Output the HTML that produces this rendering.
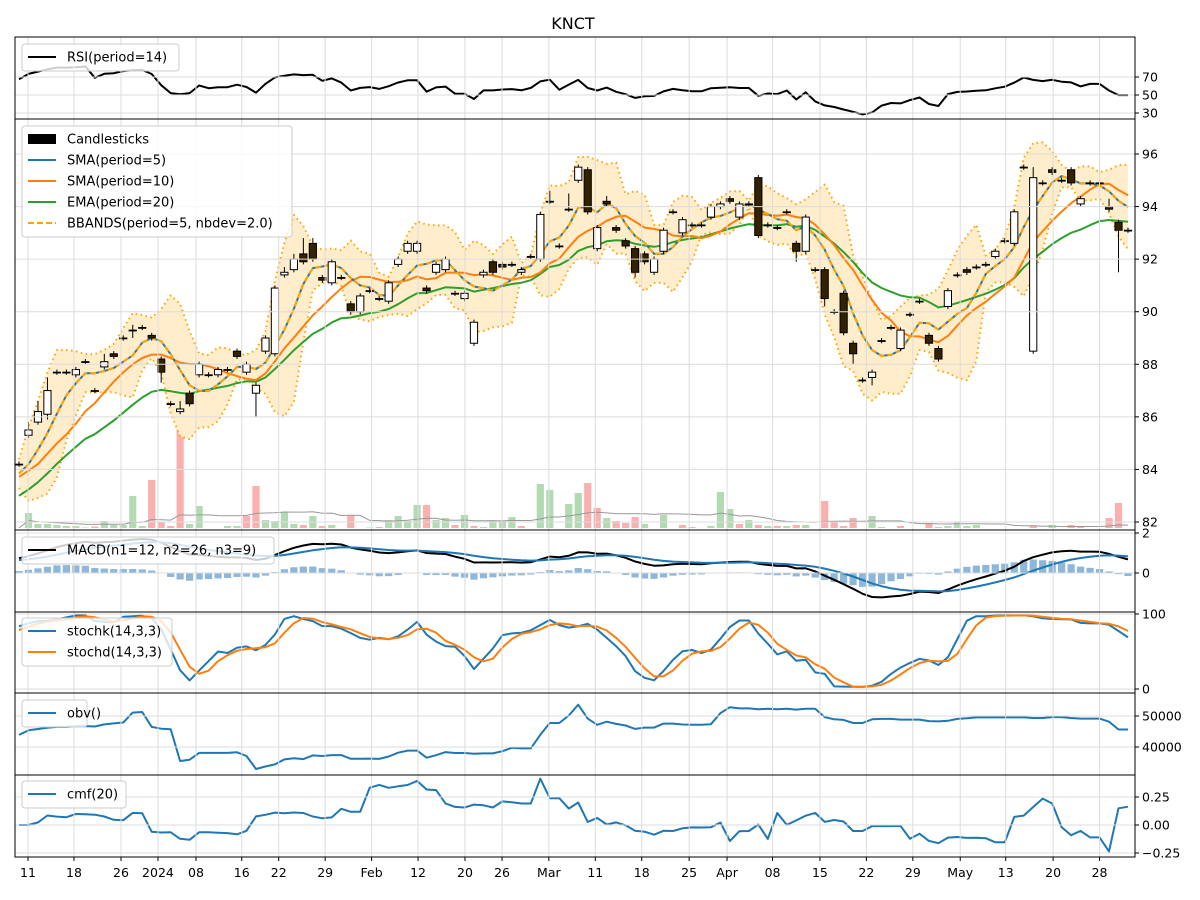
<!DOCTYPE html>
<html><head><meta charset="utf-8"><title>KNCT</title>
<style>html,body{margin:0;padding:0;background:#fff}svg{display:block}text{font-family:"DejaVu Sans","Liberation Sans",sans-serif}</style>
</head><body>
<svg id="chart" width="1200" height="900" viewBox="0 0 1200 900" xmlns="http://www.w3.org/2000/svg">
<text x="573" y="29" font-size="16" text-anchor="middle">KNCT</text>
</svg>
<script>
// ---- data ----
const preCloses = [81.0,80.6,81.2,81.5,81.1,81.8,82.3,81.9,82.4,82.9,82.5,83.2,83.6,83.1,83.8,84.3,83.7,83.4,83.9,84.0];
const opens = [84.2,85.3,85.8,86.1,87.7,87.7,87.6,88.1,87.0,87.9,88.4,89.0,89.3,89.4,89.1,88.2,86.5,86.2,86.9,87.6,87.6,87.6,87.8,88.5,87.7,86.9,88.5,88.4,91.4,91.6,92.2,92.6,91.3,91.1,91.3,90.3,90.0,90.8,90.5,90.4,91.8,92.3,92.3,90.9,91.5,91.6,90.7,90.5,88.8,91.4,91.9,91.8,91.8,91.5,92.1,92.0,94.2,92.5,93.9,95.0,95.4,92.4,94.2,93.2,92.7,92.4,92.2,91.5,92.3,93.8,93.0,93.3,93.3,93.6,94.0,94.3,93.6,94.1,95.1,93.3,93.2,93.8,92.6,92.3,91.6,91.6,90.0,90.7,88.8,87.4,87.5,88.9,89.4,88.6,89.9,90.4,89.1,88.6,90.2,91.4,91.6,91.7,91.8,92.1,92.7,92.6,95.5,88.5,94.9,95.4,95.0,95.4,94.1,94.9,94.9,94.0,93.4,93.1];
const closes = [84.2,85.5,86.2,87.0,87.7,87.7,87.8,88.1,87.0,88.1,88.3,89.0,89.3,89.4,89.0,87.7,86.5,86.3,86.5,88.0,87.6,87.8,87.8,88.3,88.0,87.2,89.0,90.9,91.5,92.0,91.9,92.0,91.2,91.9,91.3,90.0,90.6,90.8,90.5,91.1,92.0,92.6,92.6,90.8,91.8,92.0,90.7,90.7,89.6,91.5,91.5,91.7,91.8,91.6,92.1,93.7,94.2,92.5,93.9,95.5,93.8,93.2,94.1,93.1,92.5,91.5,91.9,92.0,93.1,93.8,93.5,93.3,93.3,94.0,94.1,94.2,94.1,94.1,92.9,93.3,93.2,93.8,92.3,93.6,91.6,90.5,90.0,89.2,88.4,87.4,87.7,88.9,89.4,89.3,89.9,90.4,88.8,88.2,90.8,91.4,91.5,91.7,91.8,92.3,92.7,93.8,95.5,95.1,94.9,95.3,95.0,94.9,94.3,94.9,94.9,93.9,93.1,93.1];
const wickUp = [0.1,0.3,0.4,0.5,0.1,0.1,0.1,0.1,0.1,0.3, 0.1,0.1,0.2,0.1,0.1,0.1,0.1,0.3,0.1,0.1, 0.1,0.1,0.1,0.1,0.1,0.1,0.1,0.1,0.2,0.2, 0.6,0.2,0.1,0.1,0.1,0.1,0.1,0.1,0.1,0.1, 0.1,0.1,0.1,0.1,0.1,0.1,0.1,0.1,0.1,0.1, 0.1,0.1,0.1,0.1,0.1,0.1,0.4,0.1,0.6,0.1, 0.1,0.1,0.2,0.1,0.1,0.1,0.1,0.1,0.1,0.1, 0.1,0.1,0.1,0.1,0.1,0.1,0.1,0.1,0.1,0.1, 0.1,0.1,0.1,0.1,0.1,0.1,0.1,0.1,0.1,0.1, 0.1,0.1,0.1,0.1,0.1,0.1,0.1,0.1,0.1,0.1, 0.1,0.1,0.1,0.1,0.1,0.1,0.1,0.4,0.1,0.1, 0.1,0.1,0.1,0.1,0.1,0.3,0.1,0.1];
const wickDn = [0.1,0.1,0.1,0.2,0.1,0.1,0.1,0.1,0.1,0.1, 0.1,0.1,0.3,0.1,0.1,0.4,0.1,0.1,0.1,0.1, 0.1,0.1,0.1,0.1,0.1,0.9,0.1,0.1,0.1,0.1, 0.1,0.1,0.1,0.1,0.1,0.1,0.1,0.1,0.1,0.1, 0.1,0.1,0.1,0.1,0.1,0.1,0.1,0.1,0.1,0.1, 0.1,0.1,0.1,0.1,0.1,0.1,0.1,0.1,0.1,0.1, 0.1,0.1,0.1,0.1,0.1,0.2,0.1,0.1,0.1,0.1, 0.1,0.1,0.1,0.1,0.1,0.1,0.1,0.1,0.1,0.1, 0.1,0.1,0.4,0.1,0.1,0.3,0.1,0.1,0.4,0.1, 0.3,0.1,0.1,0.1,0.1,0.1,0.1,0.1,0.1,0.1, 0.1,0.1,0.1,0.1,0.1,0.1,0.1,0.1,0.1,0.1, 0.1,0.1,0.1,0.1,0.1,0.1,1.6,0.1];
// volumes in hundreds of shares
const volumes = [0,15,4,4,3,2,2,0.5,1.5,7,3,3,32,2,48,6,2,102,4,22,0,0,2,2,12,42,8,7,16,4,3,12,2,3,0,12,0,0.5,1,8,
 12,7,23,23,8,10,3,13,2,1,7,7,11,2,0,44,38,0,24,35,45,20,10,7,5,11,4,0,13,0,3,1,0,2,36,19,4,8,3,2,
 2,2,3,3,0,27,7,2,10,0,12,1,0,2,0,0,5,1,2,6,2,3,0,0,0,0,0,2,0,3,0,3,2,0,0,10,25,0];
const obvStart = 43900;
const tickLabels = ["11","18","26","2024","08","16","22","29","Feb","12","20","26","Mar","11","18","25","Apr","08","15","22","29","May","13","20","28"];
const tickIdx = [0.95,5.8,10.76,14.66,18.67,23.5,27.4,32.3,37.2,42.1,47.05,50.96,55.9,60.8,65.7,70.7,74.7,79.5,84.5,89.4,94.3,99.3,104.1,109.1,114.0];

// ---- helpers ----
const svg = document.getElementById('chart');
const NS = 'http://www.w3.org/2000/svg';
function mk(tag, attrs, parent){const e=document.createElementNS(NS,tag);for(const k in attrs)e.setAttribute(k,attrs[k]);(parent||svg).appendChild(e);return e;}
const N = Math.min(opens.length, closes.length);
const L = 15, R = 1135;
const xS = i => 19 + i*(1109/(N-1));
const panels = {
 rsi:{top:37,bot:119, y:v=>77-(v-70)*0.9},
 main:{top:119,bot:530, y:v=>154+(96-v)*26.286},
 macd:{top:530,bot:612, y:v=>573-v*20},
 stoch:{top:612,bot:693, y:v=>689-v*0.75},
 obv:{top:693,bot:775, y:v=>747-(v-40000)*0.0031},
 cmf:{top:775,bot:857, y:v=>825-v*112}
};
const defs = mk('defs',{});
for(const k in panels){const p=panels[k];const cp=mk('clipPath',{id:'clip-'+k},defs);mk('rect',{x:L,y:p.top,width:R-L,height:p.bot-p.top},cp);
 p.g=mk('g',{'clip-path':'url(#clip-'+k+')'});}

// ---- indicators ----
const P = preCloses.length;
const all = preCloses.concat(closes.slice(0,N));
const highs = [], lows = [];
for(let i=0;i<N;i++){highs.push(Math.max(opens[i],closes[i])+wickUp[i]);lows.push(Math.min(opens[i],closes[i])-wickDn[i]);}
const allH = preCloses.map(v=>v+0.2).concat(highs), allL = preCloses.map(v=>v-0.2).concat(lows);
function sma(arr,n,i){let s=0,c=0;for(let j=Math.max(0,i-n+1);j<=i;j++){s+=arr[j];c++;}return s/c;}
function emaArr(arr,n){const a=2/(n+1);const o=[arr[0]];for(let i=1;i<arr.length;i++)o.push(a*arr[i]+(1-a)*o[i-1]);return o;}
const sma5=[],sma10=[],bbU=[],bbL=[];
for(let i=0;i<N;i++){const k=P+i;sma5.push(sma(all,5,k));sma10.push(sma(all,10,k));
 let m=sma5[i],v=0;for(let j=k-4;j<=k;j++)v+=(all[j]-m)**2;const sd=Math.sqrt(v/5);bbU.push(m+2*sd);bbL.push(m-2*sd);}
const ema20 = emaArr(all,20).slice(P);
// RSI
const rsi=[];{let ag=0,al=0;for(let j=1;j<=14;j++){const d=all[j]-all[j-1];if(d>0)ag+=d;else al-=d;}ag/=14;al/=14;
 const r=[];for(let j=15;j<all.length;j++){const d=all[j]-all[j-1];ag=(ag*13+Math.max(d,0))/14;al=(al*13+Math.max(-d,0))/14;r[j]=al===0?100:100-100/(1+ag/al);}
 for(let i=0;i<N;i++)rsi.push(r[P+i]);}
// MACD
const e12=emaArr(all,12),e26=emaArr(all,26);const macdAll=e12.map((v,i)=>v-e26[i]);const sigAll=emaArr(macdAll,9);
const macd=macdAll.slice(P),signal=sigAll.slice(P),hist=macd.map((v,i)=>v-signal[i]);
// Stochastic
const fk=[];for(let j=0;j<all.length;j++){let hh=-1e9,ll=1e9;for(let q=Math.max(0,j-13);q<=j;q++){hh=Math.max(hh,allH[q]);ll=Math.min(ll,allL[q]);}fk.push(hh===ll?50:100*(all[j]-ll)/(hh-ll));}
const sk=fk.map((v,j)=>sma(fk,3,j));const sd3=sk.map((v,j)=>sma(sk,3,j));
const stochK=sk.slice(P),stochD=sd3.slice(P);
// OBV
const obv=[obvStart];for(let i=1;i<N;i++){const d=closes[i]-closes[i-1];obv.push(obv[i-1]+(d>0?1:d<0?-1:0)*volumes[i]*100);}
// CMF
const mfv=[];for(let i=0;i<N;i++){const r=highs[i]-lows[i];mfv.push(r>0?((closes[i]-lows[i])-(highs[i]-closes[i]))/r*volumes[i]:0);}
const cmf=[];for(let i=0;i<N;i++){let a=0,b=0;for(let j=Math.max(0,i-19);j<=i;j++){a+=mfv[j];b+=volumes[j];}cmf.push(b>0?a/b:0);}
const volMA=[];for(let i=0;i<N;i++)volMA.push(sma(volumes,20,i));

// ---- grids ----
const gridG = mk('g',{});


const yGrid = {rsi:[30,50,70],main:[82,84,86,88,90,92,94,96],macd:[0,2],stoch:[0,100],obv:[40000,50000],cmf:[-0.25,0,0.25]};
for(const k in panels){const p=panels[k];
 tickIdx.forEach(t=>mk('line',{x1:xS(t),x2:xS(t),y1:p.top,y2:p.bot,stroke:'#dcdcdc','stroke-width':1},gridG));
 yGrid[k].forEach(v=>mk('line',{x1:L,x2:R,y1:p.y(v),y2:p.y(v),stroke:'#dcdcdc','stroke-width':1},gridG));}

function poly(g,vals,yf,color,w,dash,name){const pts=vals.map((v,i)=>xS(i).toFixed(1)+','+yf(v).toFixed(1)).join(' ');
 const e=mk('polyline',{points:pts,fill:'none',stroke:color,'stroke-width':w,'stroke-linejoin':'round'},g);if(dash)e.setAttribute('stroke-dasharray',dash);
 
 return e;}

// ---- RSI ----
poly(panels.rsi.g,rsi,panels.rsi.y,'#000',2,null,'rsi-line');

// ---- main ----
const M=panels.main, my=M.y;
const volG=mk('g',{},M.g);


for(let i=0;i<N;i++){const up=i===0||closes[i]>=closes[i-1];const h=volumes[i];
 const b=mk('rect',{x:xS(i)-3.6,y:528-h,width:7.2,height:h,fill:up?'#b3dbb3':'#fbb0b0'},volG);
 
 }
poly(M.g,volMA,v=>528-v,'#999',1,null,'volume-ma-line');
{let d='M'+bbU.map((v,i)=>xS(i).toFixed(1)+','+my(v).toFixed(1)).join(' L');
 for(let i=N-1;i>=0;i--)d+=' L'+xS(i).toFixed(1)+','+my(bbL[i]).toFixed(1);
 const f=mk('path',{d:d+'Z',fill:'#ffedcc'},M.g);
 
 }
poly(M.g,bbU,my,'#ffa500',2,'1.5,3.5','bbands-upper');
poly(M.g,bbL,my,'#ffa500',2,'1.5,3.5','bbands-lower');
poly(M.g,ema20,my,'#2ca02c',2,null,'ema20-line');
poly(M.g,sma10,my,'#ff7f0e',2,null,'sma10-line');
poly(M.g,sma5,my,'#1f77b4',2,null,'sma5-line');
poly(M.g,sma5,my,'#ffa500',2,'6,3','bbands-middle');
for(let i=0;i<N;i++){const x=xS(i),o=opens[i],c=closes[i];const up=c>=o;
 const g=mk('g',{},M.g);
 
 
 mk('line',{x1:x,x2:x,y1:my(highs[i]),y2:my(lows[i]),stroke:'#000','stroke-width':1},g);
 const top=my(Math.max(o,c)),bot=my(Math.min(o,c));
 mk('rect',{x:x-3.6,y:top,width:7.2,height:Math.max(bot-top,0.8),fill:up?'#fff':'#332200',stroke:'#000','stroke-width':1},g);}

// ---- MACD ----
const Mc=panels.macd;
for(let i=0;i<N;i++){const v=hist[i];const y0=Mc.y(0),y1=Mc.y(v);
 const b=mk('rect',{x:xS(i)-3.6,y:Math.min(y0,y1),width:7.2,height:Math.abs(y1-y0),fill:'#8db8dc'},Mc.g);
 
 }
poly(Mc.g,macd,Mc.y,'#000',2,null,'macd-line');
poly(Mc.g,signal,Mc.y,'#1f77b4',2,null,'macd-signal-line');

poly(panels.stoch.g,stochK,panels.stoch.y,'#1f77b4',2,null,'stochk-line');
poly(panels.stoch.g,stochD,panels.stoch.y,'#ff7f0e',2,null,'stochd-line');
poly(panels.obv.g,obv,panels.obv.y,'#1f77b4',2,null,'obv-line');
poly(panels.cmf.g,cmf,panels.cmf.y,'#1f77b4',2,null,'cmf-line');

// ---- frames & ticks ----
const yLabels={rsi:[[70,'70'],[50,'50'],[30,'30']],main:[[96,'96'],[94,'94'],[92,'92'],[90,'90'],[88,'88'],[86,'86'],[84,'84'],[82,'82']],macd:[[2,'2'],[0,'0']],stoch:[[100,'100'],[0,'0']],obv:[[50000,'50000'],[40000,'40000']],cmf:[[0.25,'0.25'],[0,'0.00'],[-0.25,'−0.25']]};
for(const k in panels){const p=panels[k];
 const fr=mk('rect',{x:L,y:p.top,width:R-L,height:p.bot-p.top,fill:'none',stroke:'#000','stroke-width':1});
 
 
 yLabels[k].forEach(([v,t])=>{const y=p.y(v);mk('line',{x1:R,x2:R+4,y1:y,y2:y,stroke:'#000'});
  const tx=mk('text',{x:R+7,y:y+4.5,'font-size':12.5},svg);tx.textContent=t;
  
  });}
tickIdx.forEach((t,j)=>{const x=xS(t);mk('line',{x1:x,x2:x,y1:857,y2:861,stroke:'#000'});
 const tx=mk('text',{x:x,y:877,'font-size':12.5,'text-anchor':'middle'});tx.textContent=tickLabels[j];
 
 });

// ---- legends ----
function legend(x,y,w,entries,name){const g=mk('g',{});
 
 
 mk('rect',{x:x,y:y,width:w,height:entries.length*21+6,rx:3,fill:'#fff','fill-opacity':0.8,stroke:'#ccc'},g);
 entries.forEach((e,j)=>{const cy=y+13+j*21;
  if(e.box)mk('rect',{x:x+6,y:cy-5,width:28,height:10,fill:e.c},g);
  else{const l=mk('line',{x1:x+6,x2:x+34,y1:cy,y2:cy,stroke:e.c,'stroke-width':2},g);if(e.d)l.setAttribute('stroke-dasharray',e.d);}
  const t=mk('text',{x:x+45,y:cy+4.5,'font-size':13},g);t.textContent=e.t;});}
legend(22,44,157,[{c:'#000',t:'RSI(period=14)'}],'rsi-legend');
legend(22,126,270,[{c:'#000',t:'Candlesticks',box:1},{c:'#1f77b4',t:'SMA(period=5)'},{c:'#ff7f0e',t:'SMA(period=10)'},{c:'#2ca02c',t:'EMA(period=20)'},{c:'#ffa500',t:'BBANDS(period=5, nbdev=2.0)',d:'6,3'}],'main-legend');
legend(22,537,252,[{c:'#000',t:'MACD(n1=12, n2=26, n3=9)'}],'macd-legend');
legend(22,618,150,[{c:'#1f77b4',t:'stochk(14,3,3)'},{c:'#ff7f0e',t:'stochd(14,3,3)'}],'stoch-legend');
legend(22,700,65,[{c:'#1f77b4',t:'obv()'}],'obv-legend');
legend(22,781,104,[{c:'#1f77b4',t:'cmf(20)'}],'cmf-legend');
</script>
</body></html>
